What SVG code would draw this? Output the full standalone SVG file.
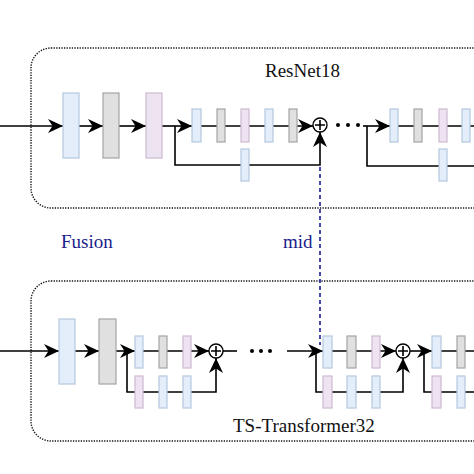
<svg xmlns="http://www.w3.org/2000/svg" width="474" height="474" viewBox="0 0 474 474">
<defs>
<marker id="ah" markerWidth="15" markerHeight="14" refX="15" refY="7" orient="auto" markerUnits="userSpaceOnUse"><path d="M0,0 L15,7 L0,14 L4.5,7 Z" fill="#000"/></marker>
<style>
.frame{fill:none;stroke:#111;stroke-width:1.4;stroke-dasharray:1.3 1.3}
.ln{fill:none;stroke:#000;stroke-width:1.6}
.arr{fill:none;stroke:#000;stroke-width:1.6;marker-end:url(#ah)}
.b{fill:#e4eefb;stroke:#b5c8e0;stroke-width:1.2}
.g{fill:#e0e0e0;stroke:#a4a4a4;stroke-width:1.2}
.p{fill:#eee3f0;stroke:#cdb9d3;stroke-width:1.2}
.sum{fill:#fff;stroke:#000;stroke-width:1.4}
.t{font-family:"Liberation Serif","Times New Roman",serif;fill:#111}
.f{font-family:"Liberation Serif","Times New Roman",serif;fill:#1c1c8c}
.dot{fill:#000}
</style>
</defs>
<rect width="474" height="474" fill="#fff"/>
<g id="frames">
<rect class="frame" x="31" y="48" width="470" height="160" rx="20"/>
<rect class="frame" x="31" y="281" width="470" height="160" rx="20"/>
</g>
<g id="connectors">
<path class="arr" d="M0,126 H63"/>
<path class="arr" d="M79,126 H103"/>
<path class="arr" d="M119,126 H146"/>
<path class="arr" d="M162,126 H192"/>
<path class="arr" d="M201,126 H313"/>
<path class="arr" d="M175,126 V165 H320 V132"/>
<path class="arr" d="M363,126 H390"/>
<path class="ln" d="M398,126 H474"/>
<path class="ln" d="M367,126 V166 H474"/>
<path d="M320,167 V345" fill="none" stroke="#2a2a9c" stroke-width="1.7" stroke-dasharray="4 3"/>
<path class="arr" d="M0,351 H59"/>
<path class="arr" d="M75,351 H99"/>
<path class="arr" d="M116,351 H135"/>
<path class="arr" d="M143,351 H209"/>
<path class="arr" d="M127,351 V392 H216 V358"/>
<path class="ln" d="M223,351 H237"/>
<path class="arr" d="M287,351 H323"/>
<path class="arr" d="M332,351 H396"/>
<path class="arr" d="M316,351 V392 H403 V358"/>
<path class="arr" d="M410,351 H432"/>
<path class="ln" d="M441,351 H474"/>
<path class="ln" d="M424,351 V392 H474"/>
</g>
<g id="resnet-stem">
<rect class="b" x="63" y="93" width="16" height="65"/>
<rect class="g" x="103" y="93" width="16" height="65"/>
<rect class="p" x="146" y="93" width="16" height="65"/>
</g>
<g id="resnet-block1">
<rect class="b" x="192" y="109" width="9" height="33"/>
<rect class="g" x="217" y="109" width="8" height="33"/>
<rect class="p" x="241" y="109" width="8" height="33"/>
<rect class="b" x="265" y="109" width="8" height="33"/>
<rect class="g" x="289" y="109" width="8" height="33"/>
<rect class="b" x="241" y="149" width="8" height="32"/>
</g>
<g id="resnet-sum">
<circle class="sum" cx="320" cy="125" r="7"/>
<path class="ln" d="M315,125 H325 M320,120 V130" stroke-width="1.1"/>
</g>
<g id="resnet-dots">
<circle class="dot" cx="338" cy="125" r="2"/>
<circle class="dot" cx="348" cy="125" r="2"/>
<circle class="dot" cx="358" cy="125" r="2"/>
</g>
<g id="resnet-block2">
<rect class="b" x="390" y="109" width="8" height="33"/>
<rect class="g" x="414" y="109" width="8" height="33"/>
<rect class="p" x="439" y="109" width="8" height="33"/>
<rect class="b" x="462" y="109" width="8" height="33"/>
<rect class="b" x="439" y="149" width="8" height="32"/>
</g>
<g id="ts-stem">
<rect class="b" x="59" y="319" width="16" height="65"/>
<rect class="g" x="99" y="319" width="17" height="65"/>
</g>
<g id="ts-block1">
<rect class="b" x="135" y="336" width="8" height="32"/>
<rect class="g" x="159" y="336" width="8" height="32"/>
<rect class="p" x="183" y="336" width="8" height="32"/>
<rect class="p" x="135" y="376" width="8" height="32"/>
<rect class="b" x="159" y="376" width="8" height="32"/>
<rect class="b" x="183" y="376" width="8" height="32"/>
<circle class="sum" cx="216" cy="351" r="7"/>
<path class="ln" d="M211,351 H221 M216,346 V356" stroke-width="1.1"/>
</g>
<g id="ts-dots">
<circle class="dot" cx="252" cy="351" r="2"/>
<circle class="dot" cx="261" cy="351" r="2"/>
<circle class="dot" cx="270" cy="351" r="2"/>
</g>
<g id="ts-block2">
<rect class="b" x="323" y="336" width="9" height="32"/>
<rect class="g" x="347" y="336" width="9" height="32"/>
<rect class="p" x="372" y="336" width="8" height="32"/>
<rect class="p" x="323" y="376" width="9" height="32"/>
<rect class="b" x="347" y="376" width="9" height="32"/>
<rect class="b" x="372" y="376" width="8" height="32"/>
<circle class="sum" cx="403" cy="351" r="7"/>
<path class="ln" d="M398,351 H408 M403,346 V356" stroke-width="1.1"/>
</g>
<g id="ts-block3">
<rect class="b" x="432" y="336" width="9" height="32"/>
<rect class="g" x="457" y="336" width="8" height="32"/>
<rect class="p" x="432" y="376" width="9" height="32"/>
<rect class="b" x="457" y="376" width="8" height="32"/>
</g>
<g id="labels">
<text class="t" x="265" y="77" font-size="19">ResNet18</text>
<text class="t" x="233" y="432" font-size="19">TS-Transformer32</text>
<text class="f" x="61" y="248" font-size="19">Fusion</text>
<text class="f" x="283" y="248" font-size="19">mid</text>
</g>
</svg>
